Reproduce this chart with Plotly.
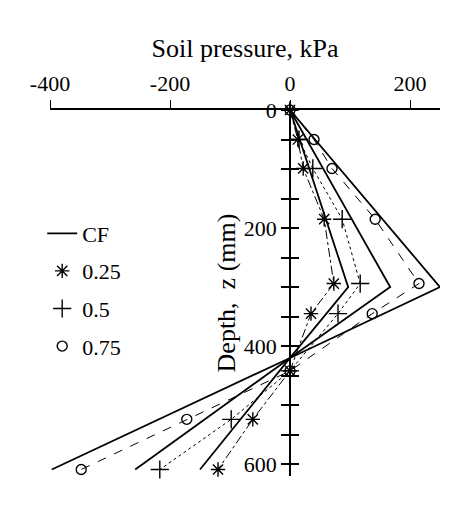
import plotly.graph_objects as go

# CF (calculated) profiles: depth (mm) vs pressure (kPa)
cf_depth = [0, 300, 420, 609]
cf_p025 = [0, 97, 0, -150]
cf_p05 = [0, 167, 0, -258]
cf_p075 = [0, 250, 0, -397]

# measured points
m_depth = [0, 50, 99, 185, 294, 345, 442, 524, 609]
m_025 = [0, 13, 22, 57, 73, 35, 0, -62, -120]
m_05 = [0, 15, 38, 87, 117, 80, 0, -98, -217]
m_075 = [0, 40, 70, 142, 215, 137, 0, -172, -348]

FONT = "Liberation Serif"
fig = go.Figure()

for i, p in enumerate([cf_p025, cf_p05, cf_p075]):
    fig.add_trace(go.Scatter(x=p, y=cf_depth, mode="lines", name="CF",
                             line=dict(color="black", width=1.8),
                             showlegend=(i == 0), legendgroup="cf"))

series = [("0.25", m_025, "asterisk-open", "dashdot", 12),
          ("0.5", m_05, "cross-thin-open", "dot", 13),
          ("0.75", m_075, "circle-open", "dash", 10)]
for name, vals, sym, dash, size in series:
    fig.add_trace(go.Scatter(x=vals, y=m_depth, mode="lines", showlegend=False,
                             line=dict(color="black", width=1, dash=dash)))
    fig.add_trace(go.Scatter(x=vals, y=m_depth, mode="markers", name=name,
                             marker=dict(symbol=sym, size=size, color="black",
                                         line=dict(width=1.4, color="black")),
                             cliponaxis=False))

ticks = list(range(0, 601, 50))
labels = [str(t) if t % 200 == 0 else "" for t in ticks]
ypos = 400 / 650

fig.update_layout(
    width=474, height=516, plot_bgcolor="white", paper_bgcolor="white",
    margin=dict(l=42, r=42, t=102, b=48),
    font=dict(family=FONT, size=22, color="black"),
    xaxis=dict(range=[-400, 250], side="top", showline=True, linecolor="black",
               linewidth=1.5, tickvals=[-400, -200, 0, 200],
               ticktext=["-400", "-200", "0", "200"],
               ticks="outside", ticklen=8, tickcolor="black", showgrid=False,
               zeroline=False, title=dict(text="Soil pressure, kPa", standoff=6)),
    yaxis=dict(range=[620, 0], anchor="free", position=ypos, showline=True,
               linecolor="black", linewidth=1.5, tickvals=ticks, ticktext=labels,
               ticks="outside", ticklen=8, tickcolor="black", tickwidth=1.5,
               showgrid=False, zeroline=False,
               title=dict(text="Depth,  z (mm)", standoff=0)),
    yaxis2=dict(range=[620, 0], overlaying="y", anchor="free", position=ypos,
                showline=False, tickvals=ticks, showticklabels=False,
                ticks="inside", ticklen=8, tickcolor="black", tickwidth=1.5,
                showgrid=False, zeroline=False),
    legend=dict(x=-0.02, y=0.72, xanchor="left", yanchor="top",
                bgcolor="rgba(0,0,0,0)", font=dict(size=22), tracegroupgap=6),
)
# dummy trace to show yaxis2 ticks
fig.add_trace(go.Scatter(x=[None], y=[None], yaxis="y2", showlegend=False))

fig.write_html("out.html")
